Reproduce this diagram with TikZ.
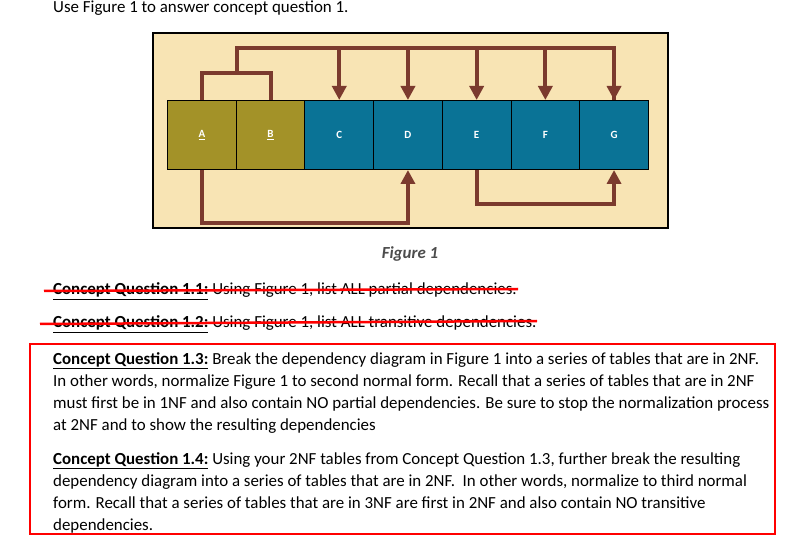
\documentclass[tikz,border=0pt]{standalone}
\usepackage{fontspec}
\setmainfont{Carlito}
\usetikzlibrary{arrows.meta}
\definecolor{bgc}{HTML}{F8E4B4}
\definecolor{olv}{HTML}{A39228}
\definecolor{tea}{HTML}{0A7396}
\definecolor{brn}{HTML}{7B3A2E}
\definecolor{rd}{HTML}{FF0000}
\tikzset{
 cell/.style={draw=black,line width=1pt,minimum width=68.7pt,minimum height=69pt,inner sep=0pt,font=\fontsize{11}{11}\selectfont\bfseries,text=white},
 dep/.style={draw=brn,line width=4pt},
 deparr/.style={dep,-{Triangle[width=14pt,length=14pt]}},
 txt/.style={anchor=base west,inner sep=0pt,font=\fontsize{16.9}{18}\selectfont},
 strike/.style={draw=rd,line width=2.5pt}
}
\begin{document}
\begin{tikzpicture}[x=1pt,y=-1pt]
\useasboundingbox (0,0) rectangle (790,537);
\node[txt] (title) at (53,13) {Use Figure 1 to answer concept question 1.};
\draw[fill=bgc,line width=1.5pt] (153,33) rectangle (668,228);
\foreach \n/\l/\c [count=\i from 0] in {a/\underline{A}/olv,b/\underline{B}/olv,c/C/tea,d/D/tea,e/E/tea,f/F/tea,g/G/tea}
  \node[cell,fill=\c,anchor=north west] (\n) at (167+\i*68.7,100) {\l};
\coordinate (j) at (237,73);
\coordinate (t) at (237,48);
\draw[dep] (a.north) |- (j) -| (b.north);
\draw[dep] (j) -- (t) -| (g.north);
\foreach \n in {c,d,e,f,g} \draw[deparr] (t -| \n.north) -- (\n.north);
\draw[deparr] (a.south) -- ++(0,53) -| (d.south);
\draw[deparr] (e.south) -- ++(0,34) -| (g.south);
\node[font=\fontsize{16.9}{18}\selectfont\itshape\bfseries,text=black!70,anchor=base] (fig) at (410,259) {Figure 1};
\node[txt] (q1) at (53,295) {\textbf{\underline{Concept Question 1.1:}} Using Figure 1, list ALL partial dependencies.};
\draw[strike] (44,291) -- (518,289);
\node[txt] (q2) at (53,328) {\textbf{\underline{Concept Question 1.2:}} Using Figure 1, list ALL transitive dependencies.};
\draw[strike] (40,324) -- (537,321);
\draw[draw=rd,line width=2.5pt] (30,344) rectangle (775,534);
\node[txt] (q3a) at (53,364) {\textbf{\underline{Concept Question 1.3:}} Break the dependency diagram in Figure 1 into a series of tables that are in 2NF.};
\node[txt] (q3b) at (53,386) {In other words, normalize Figure 1 to second normal form. Recall that a series of tables that are in 2NF};
\node[txt] (q3c) at (53,408) {must first be in 1NF and also contain NO partial dependencies. Be sure to stop the normalization process};
\node[txt] (q3d) at (53,430) {at 2NF and to show the resulting dependencies};
\node[txt] (q4a) at (53,464) {\textbf{\underline{Concept Question 1.4:}} Using your 2NF tables from Concept Question 1.3, further break the resulting};
\node[txt] (q4b) at (53,486) {dependency diagram into a series of tables that are in 2NF.\ \ In other words, normalize to third normal};
\node[txt] (q4c) at (53,508) {form. Recall that a series of tables that are in 3NF are first in 2NF and also contain NO transitive};
\node[txt] (q4d) at (53,530) {dependencies.};
\end{tikzpicture}
\end{document}
